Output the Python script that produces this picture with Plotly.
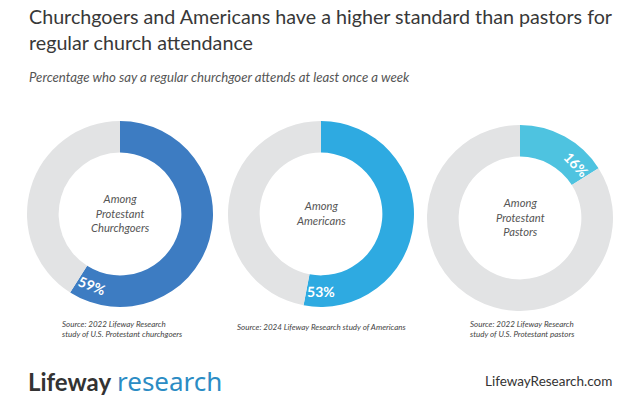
import math
import plotly.graph_objects as go

# ---- data ----
groups = ["Among<br>Protestant<br>Churchgoers", "Among<br>Americans", "Among<br>Protestant<br>Pastors"]
values = [59, 53, 16]
colors = ["#3d7cc2", "#2eaae1", "#4ec3e0"]
sources = [
    "Source: 2022 Lifeway Research<br>study of U.S. Protestant churchgoers",
    "Source: 2024 Lifeway Research study of Americans",
    "Source: 2022 Lifeway Research<br>study of U.S. Protestant pastors",
]
title_text = "Churchgoers and Americans have a higher standard than pastors for<br>regular church attendance"
subtitle_text = "Percentage who say a regular churchgoer attends at least once a week"

W, H = 640, 400
FONT = "Lato"
GRAY = "#e2e3e4"

# layout geometry (pixels): center x, center y, radius
centers = [(120, 214), (321, 214), (520, 218)]
R = 93
HOLE = 0.66

fig = go.Figure()
annotations = []
for i, (g, v, c) in enumerate(zip(groups, values, colors)):
    cx, cy = centers[i]
    dom_x = [(cx - R) / W, (cx + R) / W]
    dom_y = [1 - (cy + R) / H, 1 - (cy - R) / H]
    fig.add_trace(go.Pie(
        values=[v, 100 - v],
        labels=["Yes", "Other"],
        sort=False,
        direction="clockwise",
        rotation=0,
        hole=HOLE,
        marker=dict(colors=[c, GRAY], line=dict(width=0)),
        textinfo="none",
        hoverinfo="skip",
        showlegend=False,
        domain=dict(x=dom_x, y=dom_y),
    ))
    # centre label
    annotations.append(dict(
        x=cx / W, y=1 - (cy - 1) / H, xref="paper", yref="paper", text=g, showarrow=False,
        xanchor="center", yanchor="middle", align="center",
        font=dict(family=FONT, size=11.2, color="#555555", style="italic"),
    ))
    # percent label near end of coloured arc
    theta = v / 100 * 360 - 11
    rm = R * (1 + HOLE) / 2
    px = cx + rm * math.sin(math.radians(theta))
    py = cy - rm * math.cos(math.radians(theta))
    ang = theta - 180 if 90 < theta < 270 else theta
    annotations.append(dict(
        x=px / W, y=1 - py / H, xref="paper", yref="paper",
        text=f"<b>{v}%</b>", showarrow=False, textangle=ang,
        font=dict(family=FONT, size=14, color="white"),
        xanchor="center", yanchor="middle",
    ))

# sources
src_pos = [(60, 329), (235, 327), (468, 329)]
for s, (sx, sy) in zip(sources, src_pos):
    annotations.append(dict(
        x=sx / W, y=1 - sy / H, xref="paper", yref="paper", text=s, showarrow=False,
        xanchor="left", yanchor="middle", align="left",
        font=dict(family=FONT, size=8, color="#444444", style="italic"),
    ))

# title / subtitle
annotations.append(dict(
    x=27 / W, y=1 - 3 / H, xref="paper", yref="paper", text=title_text, showarrow=False,
    xanchor="left", yanchor="top", align="left",
    font=dict(family=FONT, size=19.7, color="#383838"),
))
annotations.append(dict(
    x=27 / W, y=1 - 77 / H, xref="paper", yref="paper", text=subtitle_text, showarrow=False,
    xanchor="left", yanchor="middle", align="left",
    font=dict(family=FONT, size=13.2, color="#555555", style="italic"),
))

# footer
annotations.append(dict(
    x=26 / W, y=1 - 381 / H, xref="paper", yref="paper",
    text="<b>Lifeway</b>", showarrow=False,
    xanchor="left", yanchor="middle",
    font=dict(family=FONT, size=24, color="#333333"),
))
annotations.append(dict(
    x=115 / W, y=1 - 381 / H, xref="paper", yref="paper",
    text="research", showarrow=False,
    xanchor="left", yanchor="middle",
    font=dict(family="Noto Sans", size=26, color="#2b8cc4"),
))
annotations.append(dict(
    x=614 / W, y=1 - 381 / H, xref="paper", yref="paper",
    text="LifewayResearch.com", showarrow=False,
    xanchor="right", yanchor="middle",
    font=dict(family=FONT, size=13.5, color="#333333"),
))

fig.update_layout(
    width=W, height=H,
    margin=dict(l=0, r=0, t=0, b=0),
    paper_bgcolor="white", plot_bgcolor="white",
    annotations=annotations,
)

fig.write_html("out.html")
